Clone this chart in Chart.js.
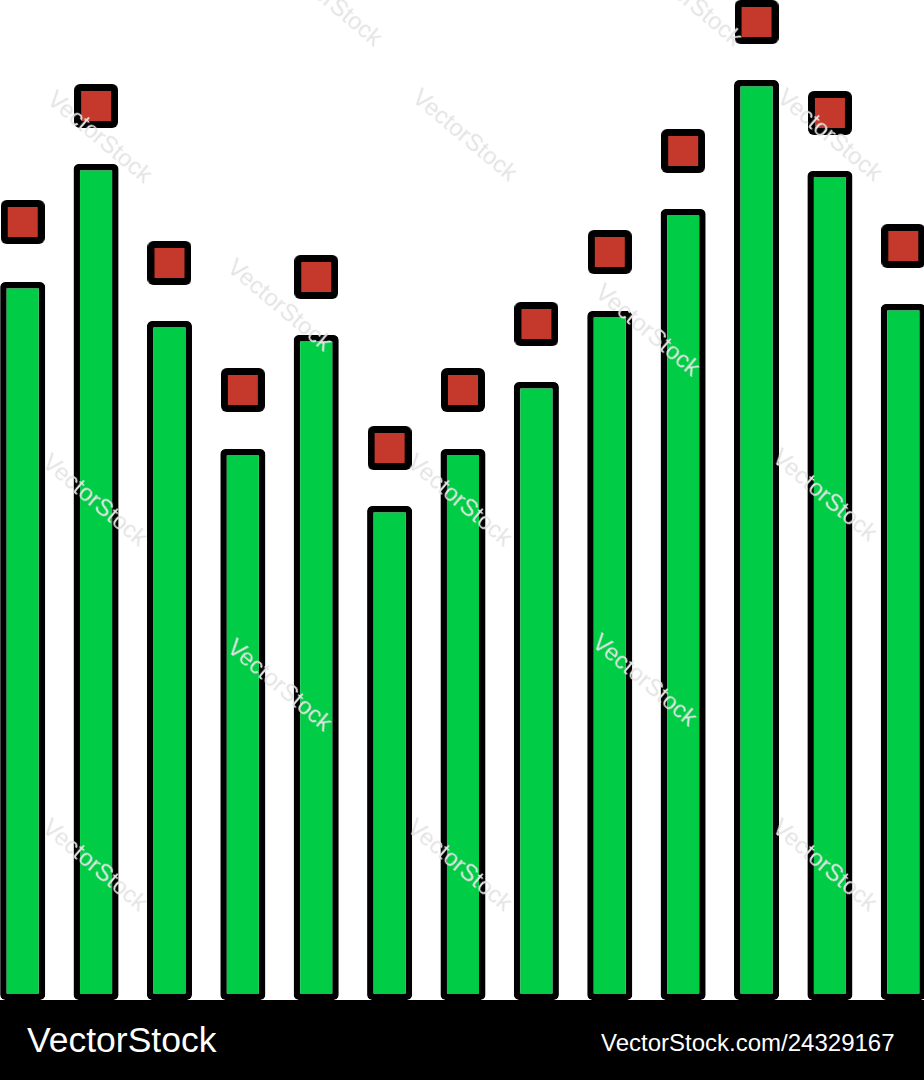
<!DOCTYPE html>
<html>
<head>
  <title>Equalizer Bars</title>
  <script src="https://cdn.jsdelivr.net/npm/chart.js"></script>
  <style>
    html, body { margin: 0; padding: 0; background: #fff; overflow: hidden; }
    #wrap { position: relative; width: 924px; height: 1080px; overflow: hidden; }
    #chartBox { position: absolute; left: -14px; top: 0; width: 954px; height: 1000px; }
    #footer { position: absolute; left: 0; top: 1000px; width: 924px; height: 80px; background: #000; color: #fff;
              font-family: "Liberation Sans", Arial, sans-serif; }
    #footer .brand { position: absolute; left: 27px; top: 20px; font-size: 35.5px; }
    #footer .link { position: absolute; left: 601px; top: 29px; font-size: 24px; }
    .wm { position: absolute; color: #e4e4e4; font-family: "Liberation Sans", Arial, sans-serif; font-size: 24px;
          transform: translate(-50%, -50%) rotate(40deg); white-space: nowrap; pointer-events: none; }
  </style>
</head>
<body>
  <div id="wrap">
    <div id="chartBox"><canvas id="myChart"></canvas></div>
    <div id="footer">
      <span class="brand">VectorStock</span>
      <span class="link">VectorStock.com/24329167</span>
    </div>
  </div>

  <script>
    // bar levels and the peak markers above them (0-100)
    const bands = ['1', '2', '3', '4', '5', '6', '7', '8', '9', '10', '11', '12', '13'];
    const levels = [71.8, 83.6, 67.9, 55.1, 66.5, 49.4, 55.1, 61.8, 68.9, 79.1, 92.0, 82.9, 69.6];
    const peaks = [77.8, 89.4, 73.7, 61.0, 72.3, 55.2, 61.0, 67.6, 74.8, 84.9, 97.8, 88.7, 75.4];

    // watermark spots
    const wmSpots = [[330, 0], [690, 0], [100, 137], [465, 135], [830, 135], [280, 305], [648, 330],
                     [95, 500], [460, 500], [825, 495], [280, 685], [645, 680], [95, 865], [460, 865], [825, 865]];

    wmSpots.forEach(p => {
      const d = document.createElement('div');
      d.className = 'wm';
      d.textContent = 'VectorStock';
      d.style.left = p[0] + 'px';
      d.style.top = p[1] + 'px';
      document.getElementById('wrap').appendChild(d);
    });

    // rounded red square used as point style
    function makeSquare() {
      const c = document.createElement('canvas');
      c.width = 44; c.height = 44;
      const g = c.getContext('2d');
      g.fillStyle = '#000';
      g.beginPath();
      g.roundRect(0, 0, 44, 44, 6);
      g.fill();
      g.fillStyle = '#c4392b';
      g.fillRect(7, 7, 30, 30);
      return c;
    }

    const ctx = document.getElementById('myChart').getContext('2d');
    const myChart = new Chart(ctx, {
      type: 'bar',
      data: {
        labels: bands,
        datasets: [
          {
            type: 'line',
            label: 'Peak',
            data: peaks,
            showLine: false,
            pointStyle: makeSquare(),
            pointRadius: 22,
            pointHoverRadius: 22,
            clip: false
          },
          {
            label: 'Level',
            data: levels,
            backgroundColor: '#00cd45',
            borderColor: '#000',
            borderWidth: 6.5,
            borderRadius: 5,
            borderSkipped: false,
            barPercentage: 0.614,
            categoryPercentage: 1
          }
        ]
      },
      options: {
        responsive: true,
        maintainAspectRatio: false,
        animation: false,
        layout: { padding: 0, autoPadding: false },
        plugins: { legend: { display: false }, tooltip: { enabled: false } },
        scales: {
          x: { display: false },
          y: { display: false, min: 0, max: 100 }
        }
      }
    });
  </script>
</body>
</html>
